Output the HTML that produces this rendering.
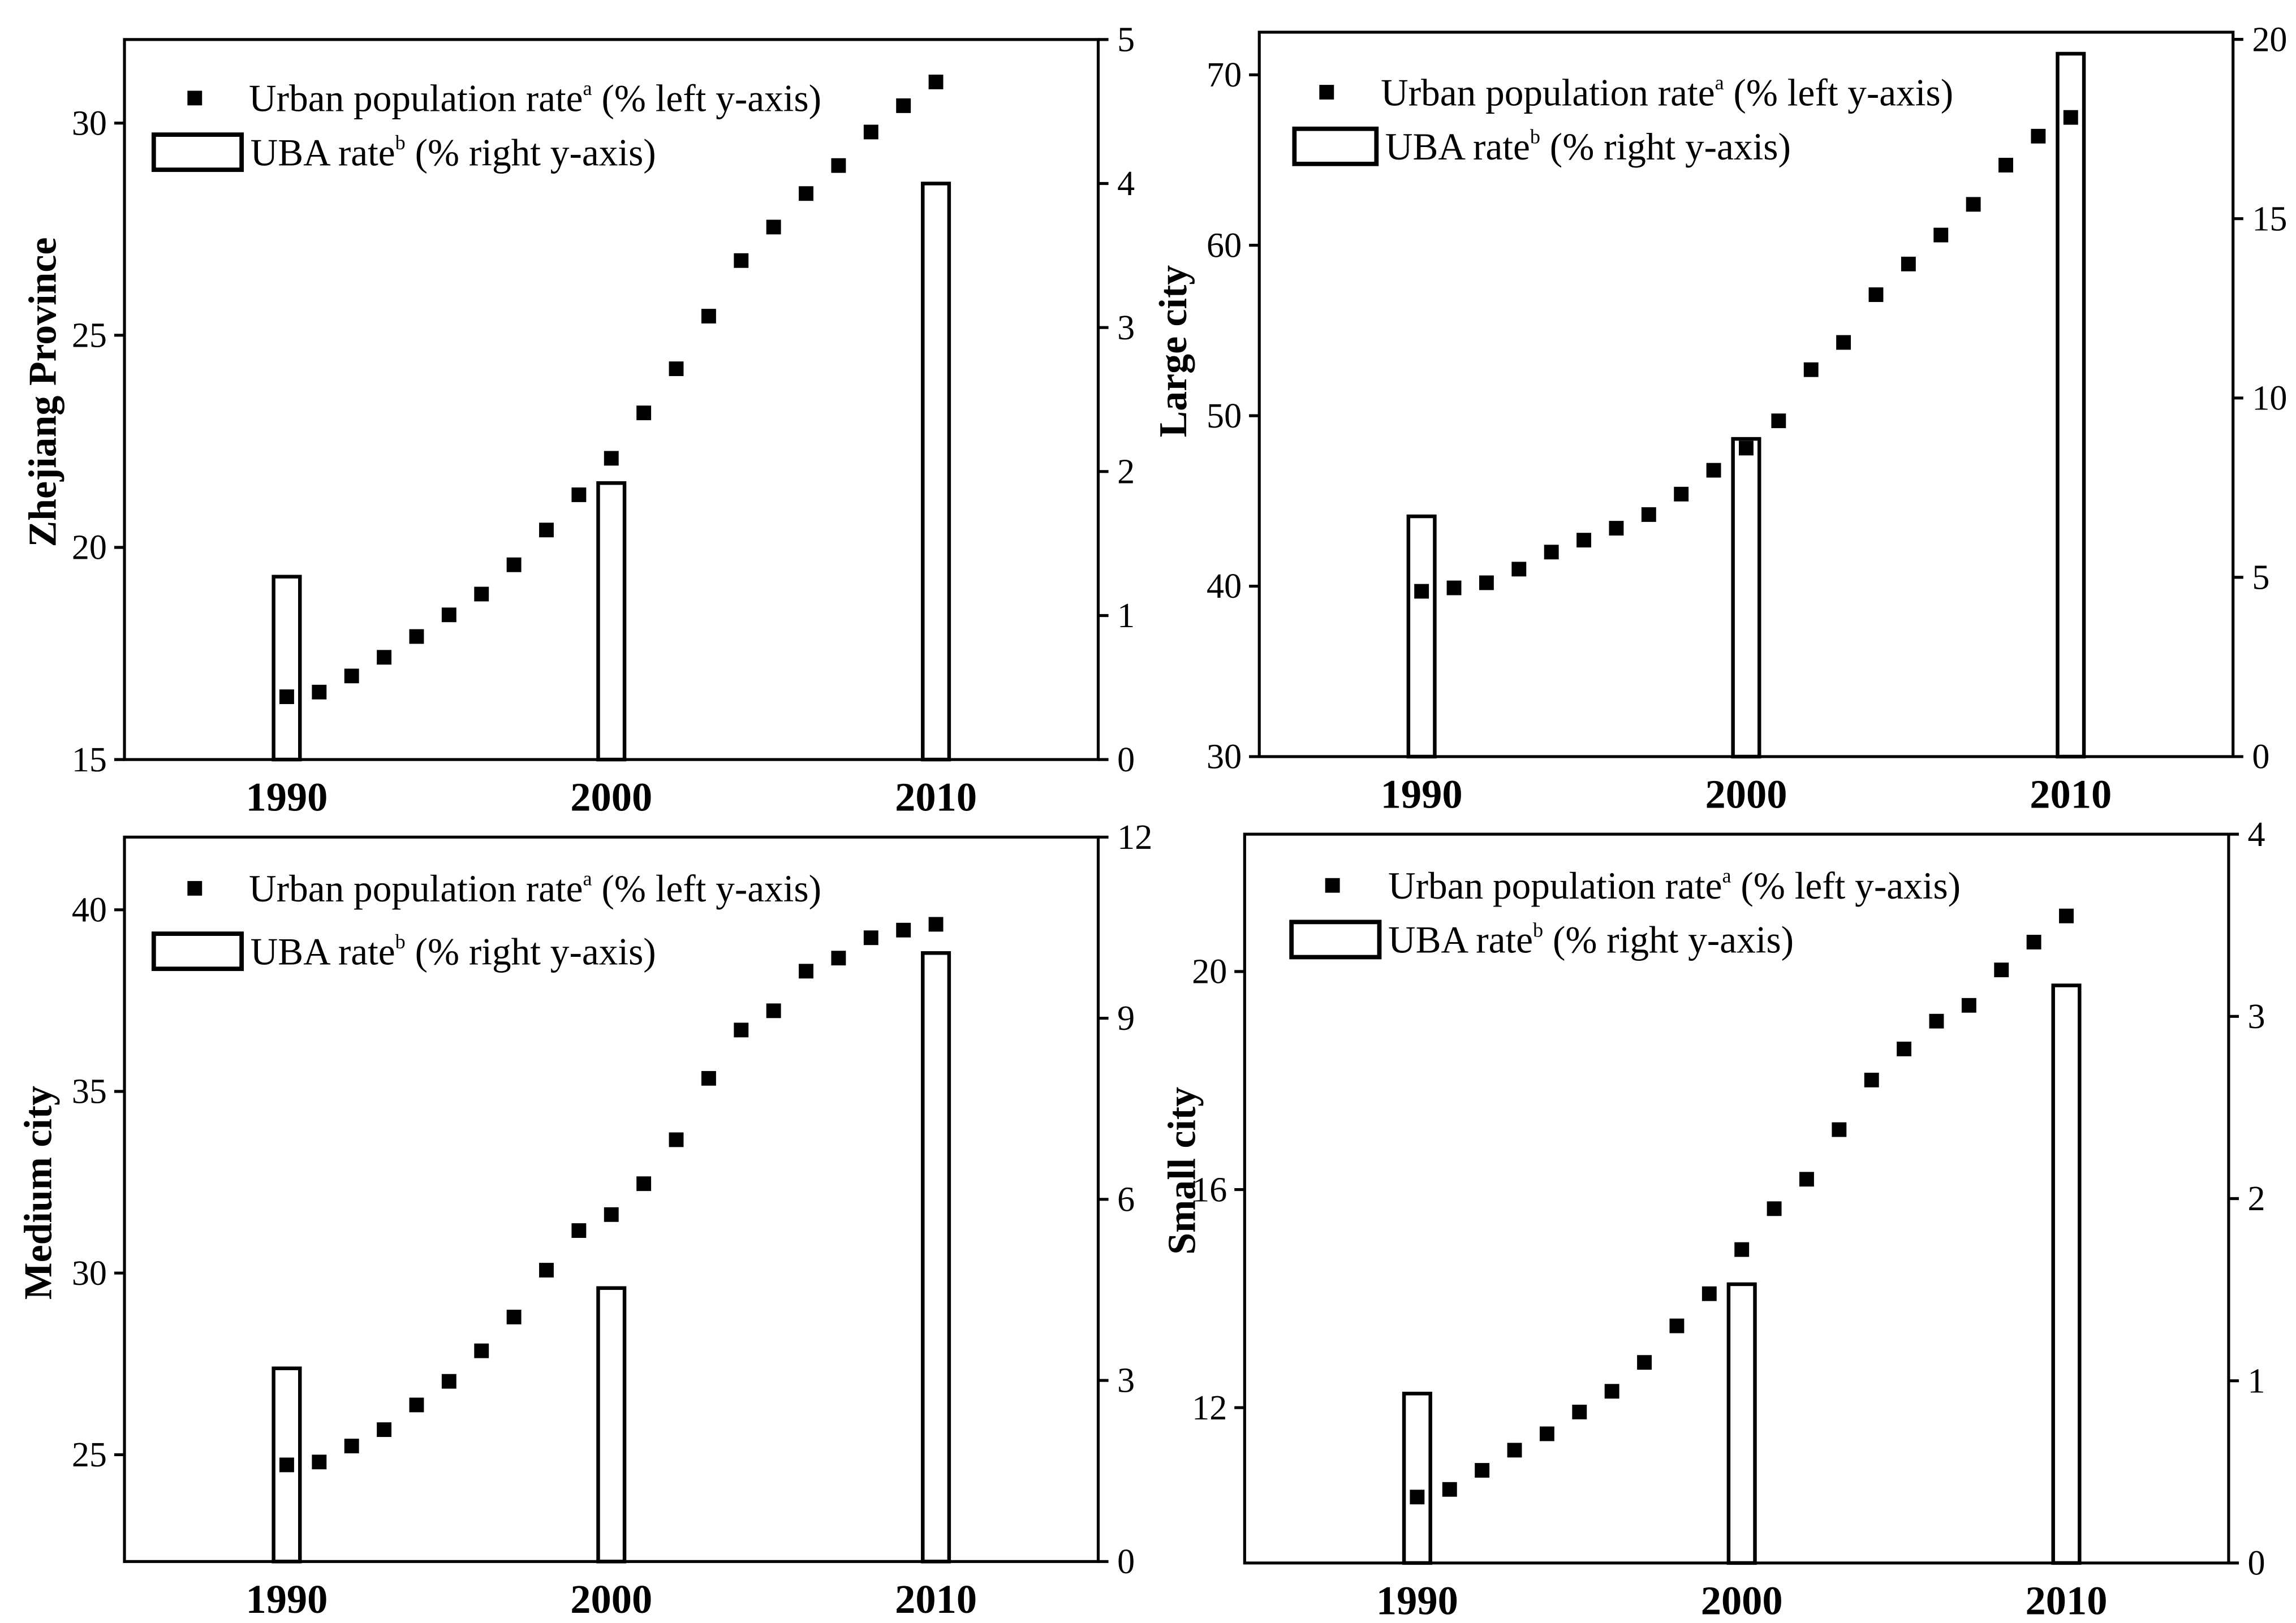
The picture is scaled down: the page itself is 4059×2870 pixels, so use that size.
<!DOCTYPE html>
<html><head><meta charset="utf-8">
<style>
html,body{margin:0;padding:0;background:#fff;}
svg{display:block;font-family:"Liberation Serif",serif;}
</style></head>
<body>
<svg id="chart" width="4059" height="2870" viewBox="0 0 1568 1109" preserveAspectRatio="none" xmlns="http://www.w3.org/2000/svg"></svg>
<script>
const years = [1990,1991,1992,1993,1994,1995,1996,1997,1998,1999,2000,2001,2002,2003,2004,2005,2006,2007,2008,2009,2010];
const barYears = [1990,2000,2010];
const xTickLabels = ["1990","2000","2010"];

const zjPop = [16.48,16.59,16.97,17.41,17.90,18.41,18.90,19.59,20.41,21.24,22.10,23.17,24.21,25.45,26.76,27.55,28.34,29.0,29.79,30.41,30.97];
const zjUba = [1.27,1.92,4.0];
const zjLeftTicks = [15,20,25,30];
const zjRightTicks = [0,1,2,3,4,5];

const lgPop = [39.7,39.9,40.2,41.0,42.0,42.7,43.4,44.2,45.4,46.8,48.1,49.7,52.7,54.3,57.1,58.9,60.6,62.4,64.7,66.4,67.5];
const lgUba = [6.7,8.86,19.6];
const lgLeftTicks = [30,40,50,60,70];
const lgRightTicks = [0,5,10,15,20];

const mdPop = [24.72,24.8,25.24,25.69,26.37,27.02,27.86,28.79,30.08,31.17,31.61,32.46,33.67,35.36,36.69,37.22,38.31,38.67,39.23,39.44,39.6];
const mdUba = [3.2,4.53,10.08];
const mdLeftTicks = [25,30,35,40];
const mdRightTicks = [0,3,6,9,12];

const smPop = [10.36,10.5,10.85,11.22,11.52,11.92,12.3,12.83,13.5,14.09,14.9,15.65,16.19,17.1,18.01,18.58,19.09,19.38,20.03,20.54,21.02];
const smUba = [0.93,1.53,3.17];
const smLeftTicks = [12,16,20];
const smRightTicks = [0,1,2,3,4];

const NS="http://www.w3.org/2000/svg";
const svg=document.getElementById('chart');
function mk(tag,attrs,parent){const e=document.createElementNS(NS,tag);for(const k in attrs)e.setAttribute(k,attrs[k]);(parent||svg).appendChild(e);return e;}

function panel(o){
  const g=mk('g',{});
  
  
  const x=v=>o.L+(v-1985)/(2015-1985)*(o.R-o.L);
  const yl=v=>o.B-(v-o.lmin)/(o.lmax-o.lmin)*(o.B-o.T);
  const yr=v=>o.B-(v-o.rmin)/(o.rmax-o.rmin)*(o.B-o.T);
  const FL=o.FL||o.L;
  const fr=mk('rect',{x:FL,y:o.T,width:o.R-FL,height:o.B-o.T,fill:'none',stroke:'#000','stroke-width':2},g);
  
  
  o.lt.forEach(v=>{
    mk('line',{x1:FL-7,x2:FL,y1:yl(v),y2:yl(v),stroke:'#000','stroke-width':2},g);
    const t=mk('text',{x:FL-12,y:yl(v)+8,'text-anchor':'end','font-size':24},g);
    t.textContent=v;
    
    
  });
  o.rt.forEach(v=>{
    mk('line',{x1:o.R,x2:o.R+7,y1:yr(v),y2:yr(v),stroke:'#000','stroke-width':2},g);
    const t=mk('text',{x:o.R+13,y:yr(v)+8,'text-anchor':'start','font-size':24},g);
    t.textContent=v;
    
    
  });
  barYears.forEach((yr0,i)=>{
    const t=mk('text',{x:x(yr0),y:o.B+35,'text-anchor':'middle','font-size':28,'font-weight':'bold'},g);
    t.textContent=xTickLabels[i];
    
    
  });
  o.uba.forEach((v,i)=>{
    const bx=x(barYears[i]);
    const r=mk('rect',{x:bx-9,y:yr(v),width:18,height:o.B-yr(v),fill:'#fff',stroke:'#000','stroke-width':2.5},g);
    
    
  });
  o.pop.forEach((v,i)=>{
    const p=mk('rect',{x:x(years[i])-5,y:yl(v)-5,width:10,height:10,fill:'#000'},g);
    
    
  });
  const tt=mk('text',{x:o.tx,y:o.ty,'text-anchor':'middle','font-size':27,'font-weight':'bold',transform:`rotate(-90 ${o.tx} ${o.ty})`},g);
  tt.textContent=o.title;
  
  
  const lg=mk('g',{},g);
  
  
  mk('rect',{x:o.mx-5,y:o.my-5,width:10,height:10,fill:'#000'},lg);
  const l1=mk('text',{x:o.tx1,y:o.my+9,'font-size':26},lg);
  l1.innerHTML='Urban population rate<tspan dy="-11" font-size="14">a</tspan><tspan dy="11"> (% left y-axis)</tspan>';
  
  
  mk('rect',{x:o.bx,y:o.by,width:o.bw,height:24,fill:'#fff',stroke:'#000','stroke-width':3},lg);
  const l2=mk('text',{x:o.bx+o.bw+6,y:o.by+21,'font-size':26},lg);
  l2.innerHTML='UBA rate<tspan dy="-11" font-size="14">b</tspan><tspan dy="11"> (% right y-axis)</tspan>';
  
  
}

panel({name:'zhejiang',L:85,R:750,T:27,B:519,lmin:15,lmax:31.97,rmin:0,rmax:5,lt:zjLeftTicks,rt:zjRightTicks,pop:zjPop,uba:zjUba,title:'Zhejiang Province',tx:38,ty:268,mx:133,my:67,tx1:170,bx:105,by:92,bw:60});
panel({name:'large-city',L:860,R:1525,T:22,B:517,lmin:30,lmax:72.5,rmin:0,rmax:20.2,lt:lgLeftTicks,rt:lgRightTicks,pop:lgPop,uba:lgUba,title:'Large city',tx:810,ty:240,mx:906,my:63,tx1:943,bx:884,by:88,bw:56});
panel({name:'medium-city',L:85,R:750,T:572,B:1067,lmin:22.06,lmax:42.0,rmin:0,rmax:12,lt:mdLeftTicks,rt:mdRightTicks,pop:mdPop,uba:mdUba,title:'Medium city',tx:35,ty:815,mx:133,my:607,tx1:170,bx:105,by:638,bw:60});
panel({name:'small-city',L:857,FL:850,R:1522,T:570,B:1068,lmin:9.15,lmax:22.52,rmin:0,rmax:4,lt:smLeftTicks,rt:smRightTicks,pop:smPop,uba:smUba,title:'Small city',tx:816,ty:800,mx:910,my:605,tx1:948,bx:882,by:630,bw:60});
</script>
</body></html>
